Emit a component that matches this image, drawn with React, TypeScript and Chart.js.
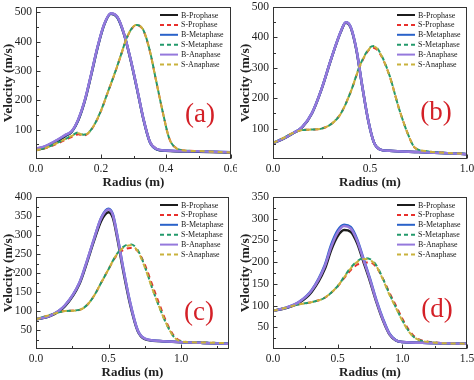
import React, { useEffect, useRef } from "react";
import { Chart, registerables } from "chart.js";
Chart.register(...registerables);

const SERIES_NAMES = ["B-Prophase", "S-Prophase", "B-Metaphase", "S-Metaphase", "B-Anaphase", "S-Anaphase"];
const X_TITLE = "Radius (m)";
const Y_TITLE = "Velocity (m/s)";

// ---- Panel (a) ----
const aBx = [0, 0.03, 0.06, 0.09, 0.11, 0.13, 0.15, 0.17, 0.19, 0.21, 0.23, 0.25, 0.27, 0.29, 0.31, 0.33, 0.35, 0.37, 0.4, 0.5, 0.6];
const aBPro = [30, 40, 57, 78, 93, 132, 197, 287, 382, 458, 495, 483, 428, 343, 243, 138, 59, 34, 28, 25, 22];
const aBMeta = [34, 44, 61, 81, 94, 134, 199, 289, 384, 459, 496, 484, 429, 344, 244, 139, 59, 34, 29, 26, 23];
const aBAna = [35, 45, 62, 82, 95, 135, 200, 290, 385, 460, 497, 485, 430, 345, 245, 140, 60, 35, 29, 26, 23];
const aSx = [0, 0.03, 0.06, 0.09, 0.12, 0.13, 0.145, 0.16, 0.18, 0.2, 0.22, 0.24, 0.26, 0.28, 0.3, 0.31, 0.33, 0.35, 0.37, 0.39, 0.41, 0.43, 0.45, 0.47, 0.5, 0.6];
const aSPro = [30, 37, 50, 65, 80, 84, 80, 87, 117, 164, 224, 284, 349, 414, 451, 456, 439, 369, 264, 160, 70, 38, 30, 28, 27, 22];
const aSMeta = [30, 38, 52, 68, 86, 91, 83, 88, 118, 165, 225, 285, 350, 415, 452, 457, 440, 370, 265, 160, 70, 38, 30, 28, 27, 22];
const aSAna = [30, 38, 52, 68, 84, 88, 82, 88, 118, 165, 225, 285, 350, 415, 452, 457, 440, 370, 265, 160, 70, 38, 30, 28, 27, 22];

// ---- Panel (b) ----
const bBx = [0, 0.05, 0.1, 0.15, 0.2, 0.25, 0.3, 0.35, 0.375, 0.4, 0.43, 0.46, 0.49, 0.52, 0.55, 0.6, 0.75, 0.9, 1.0];
const bBPro = [52, 65, 83, 104, 149, 229, 329, 419, 448, 433, 358, 239, 129, 55, 32, 27, 23, 19, 16];
const bBMeta = [53, 66, 84, 105, 150, 230, 330, 420, 450, 435, 360, 240, 130, 55, 32, 27, 23, 19, 16];
const bBAna = [53, 66, 84, 105, 150, 230, 330, 420, 450, 435, 360, 240, 130, 55, 32, 27, 23, 19, 16];
const bSx = [0, 0.05, 0.1, 0.15, 0.2, 0.25, 0.3, 0.35, 0.4, 0.45, 0.5, 0.52, 0.55, 0.6, 0.65, 0.7, 0.73, 0.8, 0.9, 1.0];
const bSPro = [53, 68, 85, 95, 97, 100, 115, 150, 220, 308, 362, 365, 348, 275, 165, 75, 38, 25, 20, 17];
const bSMeta = [53, 68, 85, 95, 97, 100, 115, 150, 220, 311, 367, 372, 352, 276, 165, 75, 38, 25, 20, 17];
const bSAna = [53, 68, 85, 95, 97, 100, 115, 150, 220, 310, 365, 370, 350, 275, 165, 75, 38, 25, 20, 17];

// ---- Panel (c) ----
const cBx = [0, 0.1, 0.2, 0.3, 0.35, 0.4, 0.45, 0.5, 0.53, 0.56, 0.6, 0.65, 0.7, 0.75, 0.85, 1.0, 1.15, 1.34];
const cBPro = [78, 87, 113, 172, 226, 285, 338, 360, 345, 292, 208, 115, 48, 26, 21, 18, 16, 14];
const cBMeta = [78, 88, 115, 175, 230, 290, 346, 369, 354, 300, 215, 120, 50, 27, 21, 18, 16, 14];
const cBAna = [78, 88, 115, 175, 230, 290, 345, 367, 352, 298, 214, 120, 50, 27, 21, 18, 16, 14];
const cSx = [0, 0.1, 0.2, 0.3, 0.35, 0.4, 0.45, 0.5, 0.55, 0.6, 0.65, 0.7, 0.75, 0.8, 0.85, 0.9, 0.95, 1.0, 1.15, 1.34];
const cSPro = [78, 90, 100, 103, 115, 140, 175, 210, 243, 260, 266, 258, 222, 170, 118, 70, 35, 21, 17, 15];
const cSMeta = [78, 90, 100, 103, 115, 140, 175, 210, 246, 268, 276, 261, 217, 161, 110, 65, 32, 20, 17, 15];
const cSAna = [78, 90, 100, 103, 115, 140, 175, 210, 245, 266, 273, 258, 215, 160, 110, 65, 32, 20, 17, 15];

// ---- Panel (d) ----
const dBx = [0, 0.1, 0.2, 0.3, 0.4, 0.45, 0.5, 0.55, 0.6, 0.65, 0.7, 0.75, 0.8, 0.85, 0.9, 0.95, 1.0, 1.2, 1.5];
const dBPro = [88, 94, 106, 132, 184, 228, 260, 274, 270, 244, 200, 156, 108, 66, 34, 20, 16, 14, 12];
const dBMeta = [88, 95, 108, 136, 193, 240, 273, 286, 281, 253, 208, 162, 112, 70, 36, 20, 16, 14, 12];
const dBAna = [88, 95, 108, 135, 190, 235, 268, 283, 278, 250, 205, 160, 110, 68, 35, 20, 16, 14, 12];
const dSx = [0, 0.1, 0.2, 0.3, 0.4, 0.5, 0.55, 0.6, 0.65, 0.7, 0.75, 0.8, 0.85, 0.9, 0.95, 1.0, 1.05, 1.1, 1.2, 1.5];
const dSPro = [88, 95, 103, 108, 118, 144, 163, 181, 194, 199, 199, 188, 162, 130, 100, 70, 44, 27, 17, 12];
const dSMeta = [88, 95, 103, 108, 118, 145, 166, 187, 202, 209, 207, 192, 162, 127, 96, 66, 41, 25, 16, 12];
const dSAna = [88, 95, 103, 108, 118, 145, 165, 185, 200, 207, 205, 190, 160, 125, 95, 65, 40, 25, 16, 12];

// ---- Axis tick values ----
const aXTicks = [0, 0.2, 0.4, 0.6];
const aXMinor = [0.1, 0.3, 0.5];
const aYTicks = [100, 200, 300, 400, 500];
const aYMinor = [50, 150, 250, 350, 450];
const bXTicks = [0, 0.5, 1.0];
const bXMinor = [0.25, 0.75];
const bYTicks = [100, 200, 300, 400, 500];
const bYMinor = [50, 150, 250, 350, 450];
const cXTicks = [0, 0.5, 1.0];
const cXMinor = [0.25, 0.75, 1.25];
const cYTicks = [50, 100, 150, 200, 250, 300, 350, 400];
const cYMinor = [25, 75, 125, 175, 225, 275, 325, 375];
const dXTicks = [0, 0.5, 1.0, 1.5];
const dXMinor = [0.25, 0.75, 1.25];
const dYTicks = [50, 100, 150, 200, 250, 300, 350];
const dYMinor = [25, 75, 125, 175, 225, 275, 325];

const COLORS = ["#1c1c1c", "#e8302c", "#2a62c9", "#239a6c", "#9579dc", "#c9b23c"];
const DASHED = [false, true, false, true, false, true];
const DASH_OFFSET = [0, 2, 0, 4.5, 0, 0];
const ORDER = [6, 5, 4, 3, 2, 1];
const FONT = "'Liberation Serif', 'Times New Roman', serif";

type Panel = {
  left: number; top: number; padRight: number;
  xMax: number; yMax: number;
  xTicks: number[]; xMinor: number[]; yTicks: number[]; yMinor: number[];
  label: string; labelX: number; labelY: number;
  bx: number[]; sx: number[]; series: number[][];
};

const PANELS: Panel[] = [
  { left: 0, top: 0, padRight: 6, xMax: 0.6, yMax: 518, xTicks: aXTicks, xMinor: aXMinor, yTicks: aYTicks, yMinor: aYMinor,
    label: "(a)", labelX: 200, labelY: 115, bx: aBx, sx: aSx, series: [aBPro, aSPro, aBMeta, aSMeta, aBAna, aSAna] },
  { left: 237, top: 0, padRight: 7, xMax: 1.0, yMax: 500, xTicks: bXTicks, xMinor: bXMinor, yTicks: bYTicks, yMinor: bYMinor,
    label: "(b)", labelX: 199, labelY: 113, bx: bBx, sx: bSx, series: [bBPro, bSPro, bBMeta, bSMeta, bBAna, bSAna] },
  { left: 0, top: 190, padRight: 8, xMax: 1.33, yMax: 400, xTicks: cXTicks, xMinor: cXMinor, yTicks: cYTicks, yMinor: cYMinor,
    label: "(c)", labelX: 199, labelY: 123, bx: cBx, sx: cSx, series: [cBPro, cSPro, cBMeta, cSMeta, cBAna, cSAna] },
  { left: 237, top: 190, padRight: 7, xMax: 1.5, yMax: 350, xTicks: dXTicks, xMinor: dXMinor, yTicks: dYTicks, yMinor: dYMinor,
    label: "(d)", labelX: 200, labelY: 120, bx: dBx, sx: dSx, series: [dBPro, dSPro, dBMeta, dSMeta, dBAna, dSAna] },
];

function PanelChart({ p }: { p: Panel }) {
  const ref = useRef<HTMLCanvasElement>(null);
  useEffect(() => {
    const decor = {
      id: "decor",
      afterDatasetsDraw(chart: any) {
        const { ctx, chartArea } = chart;
        const { left, right, top, bottom } = chartArea;
        const xs = chart.scales.x, ys = chart.scales.y;
        ctx.save();
        ctx.strokeStyle = "#333";
        ctx.lineWidth = 1;
        ctx.setLineDash([]);
        const L = Math.round(left) + 0.5, R = Math.round(right) - 0.5, T = Math.round(top) + 0.5, B = Math.round(bottom) - 0.5;
        ctx.strokeRect(L, T, R - L, B - T);
        ctx.beginPath();
        const xt = (v: number, len: number) => { const px = Math.round(xs.getPixelForValue(v)) + 0.5; ctx.moveTo(px, B); ctx.lineTo(px, B - len); };
        const yt = (v: number, len: number) => { const py = Math.round(ys.getPixelForValue(v)) + 0.5; ctx.moveTo(L, py); ctx.lineTo(L + len, py); };
        p.xTicks.forEach((v) => xt(v, 4));
        p.xMinor.forEach((v) => xt(v, 2.5));
        p.yTicks.forEach((v) => yt(v, 4));
        p.yMinor.forEach((v) => yt(v, 2.5));
        ctx.stroke();
        ctx.restore();
      },
      afterDraw(chart: any) {
        const { ctx } = chart;
        ctx.save();
        SERIES_NAMES.forEach((name, i) => {
          const y = 15 + 9.9 * i;
          ctx.strokeStyle = COLORS[i];
          ctx.lineWidth = 2;
          ctx.setLineDash(DASHED[i] ? [4, 3] : []);
          ctx.beginPath();
          ctx.moveTo(160, y);
          ctx.lineTo(178, y);
          ctx.stroke();
          ctx.setLineDash([]);
          ctx.fillStyle = "#222";
          ctx.font = `8px ${FONT}`;
          ctx.textBaseline = "middle";
          ctx.textAlign = "left";
          ctx.fillText(name, 181, y + 0.5);
        });
        ctx.fillStyle = "#d42027";
        ctx.font = `27px ${FONT}`;
        ctx.textAlign = "center";
        ctx.textBaseline = "middle";
        ctx.fillText(p.label, p.labelX, p.labelY);
        ctx.restore();
      },
    };

    const datasets = SERIES_NAMES.map((name, i) => {
      const isS = DASHED[i];
      const xsArr = isS ? p.sx : p.bx;
      const ys = p.series[i];
      return {
        label: name,
        data: xsArr.map((x, k) => ({ x, y: ys[k] })),
        borderColor: COLORS[i],
        backgroundColor: COLORS[i],
        borderWidth: isS ? 2 : 2.5,
        borderDash: isS ? [5, 4] : [],
        borderDashOffset: DASH_OFFSET[i],
        pointRadius: 0,
        fill: false,
        cubicInterpolationMode: "monotone" as const,
        order: ORDER[i],
      };
    });

    const chart = new Chart(ref.current!, {
      type: "line",
      data: { datasets },
      options: {
        responsive: false,
        animation: false,
        devicePixelRatio: 1,
        layout: { padding: { left: 0, right: p.padRight, top: 7, bottom: 0 } },
        plugins: { legend: { display: false }, tooltip: { enabled: false } },
        scales: {
          x: {
            type: "linear",
            min: 0,
            max: p.xMax,
            grid: { display: false, drawTicks: false },
            border: { display: false },
            afterBuildTicks: (s: any) => { s.ticks = p.xTicks.map((v) => ({ value: v })); },
            afterFit: (s: any) => { s.height = 31; s.paddingLeft = 0; s.paddingRight = 0; s.paddingTop = 0; s.paddingBottom = 0; },
            ticks: {
              autoSkip: false, maxRotation: 0, padding: 3, color: "#222",
              font: { family: FONT, size: 11.5 },
              callback: (v: any) => Number(v).toFixed(1),
            },
            title: { display: true, text: X_TITLE, color: "#222", padding: { top: 2, bottom: 0 }, font: { family: FONT, size: 13, weight: "bold" } },
          },
          y: {
            type: "linear",
            min: 0,
            max: p.yMax,
            grid: { display: false, drawTicks: false },
            border: { display: false },
            afterBuildTicks: (s: any) => { s.ticks = p.yTicks.map((v) => ({ value: v })); },
            afterFit: (s: any) => { s.width = 36; s.paddingLeft = 0; s.paddingRight = 0; s.paddingTop = 0; s.paddingBottom = 0; },
            ticks: {
              autoSkip: false, padding: 4, color: "#222",
              font: { family: FONT, size: 11.5 },
              callback: (v: any) => String(v),
            },
            title: { display: true, text: Y_TITLE, color: "#222", padding: { top: 0, bottom: 0 }, font: { family: FONT, size: 13.5, weight: "bold" } },
          },
        },
      },
      plugins: [decor],
    } as any);
    return () => chart.destroy();
  }, [p]);
  return (
    <canvas
      ref={ref}
      width={237}
      height={190}
      style={{ position: "absolute", left: p.left, top: p.top, width: 237, height: 190 }}
    />
  );
}

export default function App() {
  return (
    <div style={{ position: "fixed", left: 0, top: 0, width: 474, height: 380, background: "#fff", overflow: "hidden" }}>
      {PANELS.map((p, i) => (
        <PanelChart key={i} p={p} />
      ))}
    </div>
  );
}
